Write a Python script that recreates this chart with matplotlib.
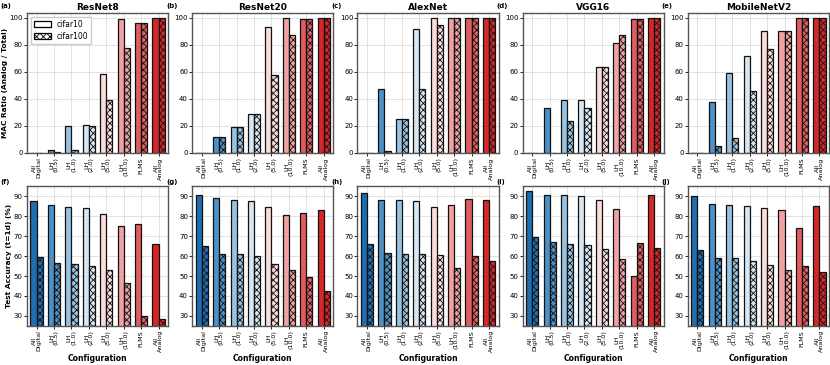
import matplotlib
matplotlib.use("Agg")
import matplotlib.pyplot as plt
import numpy as np
from matplotlib.patches import Patch

# Data
models = ['ResNet8', 'ResNet20', 'AlexNet', 'VGG16', 'MobileNetV2']
configs = ['All\nDigital', 'LH\n(0.5)', 'LH\n(1.0)', 'LH\n(2.0)', 'LH\n(5.0)', 'LH\n(10.0)', 'FLMS', 'All\nAnalog']
bar_colors = ['#1f6eb0', '#4d91c6', '#98c3e0', '#d6e6f2', '#f9dddd', '#efa1a3', '#e05d5f', '#d62728']

# MAC ratio (analog / total), %
mac_cifar10 = {
    'ResNet8':     [0, 2.2, 19.6, 21, 58.8, 98.8, 96.3, 100],
    'ResNet20':    [0, 12, 19.5, 29, 93, 100, 99, 100],
    'AlexNet':     [0, 47, 25, 92, 100, 100, 100, 100],
    'VGG16':       [0, 33, 39, 39, 63.5, 81.5, 99.5, 100],
    'MobileNetV2': [0, 38, 59, 72, 90, 90, 100, 100],
}
mac_cifar100 = {
    'ResNet8':     [0, 1, 2.2, 19.6, 39, 77.4, 96.3, 100],
    'ResNet20':    [0, 12, 19.5, 29, 58, 87, 99, 100],
    'AlexNet':     [0, 1.5, 25, 47, 95, 100, 100, 100],
    'VGG16':       [0, 0, 24, 33, 63.5, 87.5, 99.5, 100],
    'MobileNetV2': [0, 5, 11, 46, 77, 90, 100, 100],
}

# Test accuracy at t=1d, %
acc_cifar10 = {
    'ResNet8':     [87.5, 85.5, 84.4, 83.9, 81.2, 75.0, 76.0, 66.2],
    'ResNet20':    [90.5, 88.8, 88.2, 87.3, 84.7, 80.7, 81.5, 83.0],
    'AlexNet':     [91.5, 88.2, 88.2, 87.5, 84.4, 85.3, 88.5, 87.8],
    'VGG16':       [92.8, 90.7, 90.4, 90.2, 88.0, 83.3, 50.0, 90.7],
    'MobileNetV2': [90.2, 86.2, 85.7, 85.0, 84.0, 83.0, 73.8, 85.0],
}
acc_cifar100 = {
    'ResNet8':     [59.5, 56.4, 56.0, 54.8, 52.8, 46.5, 29.8, 28.7],
    'ResNet20':    [65.2, 60.8, 60.8, 60.0, 55.8, 52.8, 49.5, 42.5],
    'AlexNet':     [65.8, 61.7, 60.8, 60.8, 60.3, 53.8, 59.8, 57.7],
    'VGG16':       [69.3, 67.0, 66.2, 65.5, 63.3, 58.3, 66.7, 64.0],
    'MobileNetV2': [62.8, 58.8, 58.8, 57.3, 55.3, 53.2, 54.8, 51.8],
}

panel_labels = ['(a)', '(b)', '(c)', '(d)', '(e)', '(f)', '(g)', '(h)', '(i)', '(j)']

plt.rcParams['hatch.linewidth'] = 0.6
plt.rcParams['font.size'] = 5

fig, axes = plt.subplots(2, 5, figsize=(8.3, 3.65), dpi=100)
fig.subplots_adjust(left=0.0325, right=0.9988, top=0.964, bottom=0.107, wspace=0.17, hspace=0.237)

x = np.arange(len(configs))
w = 0.35

def draw(ax, v10, v100):
    ax.set_axisbelow(True)
    ax.grid(True, color='#dddddd', linewidth=0.6)
    ax.bar(x - w / 2, v10, w, color=bar_colors, edgecolor='#111111', linewidth=0.9)
    ax.bar(x + w / 2, v100, w, color=bar_colors, edgecolor='#111111', linewidth=0.9, hatch='xxxxx')
    ax.set_xticks(x)
    ax.set_xticklabels(configs, rotation=90, fontsize=4.6, linespacing=0.85)
    ax.set_xlim(-0.55, 7.55)
    ax.tick_params(axis='y', labelsize=5, length=2, width=0.6, pad=1)
    ax.tick_params(axis='x', length=2, width=0.6, pad=1)
    for s in ax.spines.values():
        s.set_color('#555555')
        s.set_linewidth(1.0)

for i, m in enumerate(models):
    ax = axes[0, i]
    draw(ax, mac_cifar10[m], mac_cifar100[m])
    ax.set_ylim(0, 103.5)
    ax.set_yticks([0, 20, 40, 60, 80, 100])
    ax.set_title(m, fontsize=6.5, fontweight='bold', pad=2)
    ax.text(-0.185, 1.05, panel_labels[i], transform=ax.transAxes, fontsize=5, fontweight='bold', va='center')

    ax = axes[1, i]
    draw(ax, acc_cifar10[m], acc_cifar100[m])
    ax.set_ylim(25, 95)
    ax.set_yticks([30, 40, 50, 60, 70, 80, 90])
    ax.set_xlabel('Configuration', fontsize=5.5, fontweight='bold', labelpad=1)
    ax.text(-0.185, 1.03, panel_labels[i + 5], transform=ax.transAxes, fontsize=5, fontweight='bold', va='center')

axes[0, 0].set_ylabel('MAC Ratio (Analog / Total)', fontsize=5.3, fontweight='bold', labelpad=1)
axes[1, 0].set_ylabel('Test Accuracy (t=1d) (%)', fontsize=5.3, fontweight='bold', labelpad=1)

handles = [Patch(facecolor='white', edgecolor='black', linewidth=0.9, label='cifar10'),
           Patch(facecolor='white', edgecolor='black', linewidth=0.9, hatch='xxxxx', label='cifar100')]
axes[0, 0].legend(handles=handles, loc='upper left', fontsize=5.5, handlelength=2.2, handleheight=0.8,
                  borderpad=0.4, labelspacing=0.4, framealpha=1, edgecolor='#cccccc', fancybox=True)

fig.savefig('out.png', dpi=100)
